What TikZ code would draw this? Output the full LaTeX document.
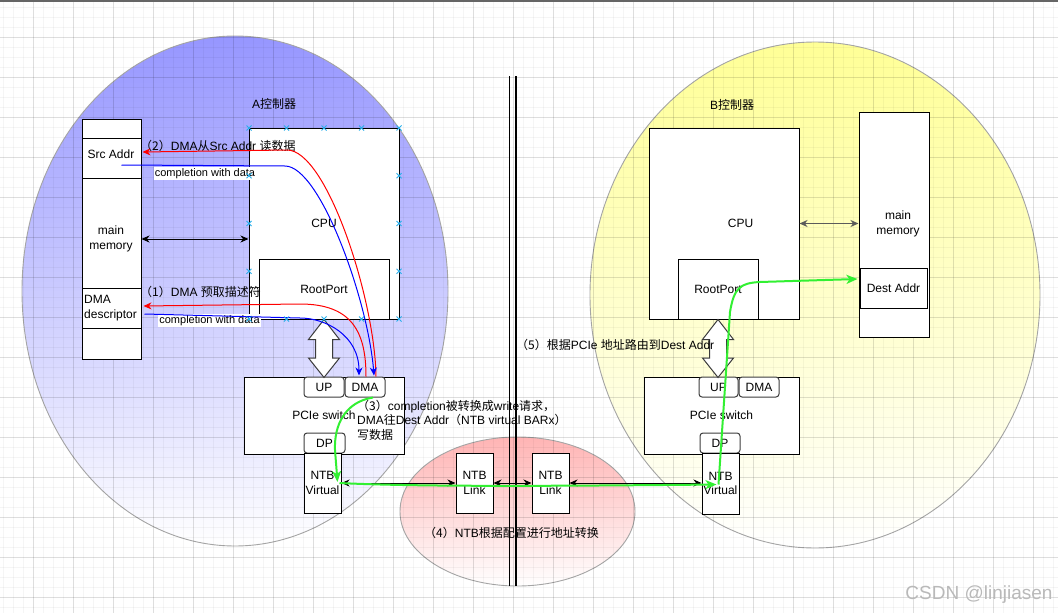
\documentclass[tikz,border=0pt]{standalone}
\usepackage{fontspec}
\setmainfont{Liberation Sans}
\newfontfamily\cjk{Noto Sans CJK SC}
\usetikzlibrary{arrows.meta,calc}
\newcommand\zh[1]{{\cjk #1}}
\newcommand\fsa{\fontsize{12pt}{14.5pt}\selectfont}
\newcommand\fsb{\fontsize{11pt}{13pt}\selectfont}
\definecolor{ellstroke}{RGB}{165,165,165}
\definecolor{blueA}{RGB}{150,150,255}
\definecolor{yelB}{RGB}{255,255,150}
\definecolor{pinkC}{RGB}{255,180,180}
\definecolor{grn}{RGB}{50,240,50}
\definecolor{selx}{RGB}{40,175,235}
\definecolor{portc}{RGB}{60,60,60}
\definecolor{arrgray}{RGB}{90,90,90}
\definecolor{wmc}{RGB}{185,185,185}
\definecolor{redl}{RGB}{255,0,0}
\definecolor{bluel}{RGB}{0,0,255}
\begin{document}
\begin{tikzpicture}[x=1pt,y=-1pt,
  >={Stealth[length=8pt,width=7pt,inset=2.5pt]},
  box/.style={draw=black, fill=white, line width=1pt, inner sep=0pt, font=\fsa, align=center},
  port/.style={draw=portc, fill=white, line width=1pt, rounded corners=3pt, inner sep=0pt,
    minimum height=20pt, font=\fsa},
  txt/.style={inner sep=0pt, font=\fsa},
  cwd/.style={fill=white, inner sep=1pt, font=\fsb},
  blk/.style={draw=black, line width=1pt},
  gblk/.style={draw=arrgray, line width=1.5pt},
  rline/.style={draw=redl, line width=1pt},
  bline/.style={draw=bluel, line width=1pt},
  grnl/.style={draw=grn, line width=2pt, -{Stealth[length=11pt,width=9pt,inset=3pt]}},
  hollow/.style={draw=portc, fill=white, line width=1pt, line join=miter},
  ell/.style={draw=ellstroke, line width=0.9pt},
  selmark/.style={draw=selx, line width=0.9pt},
  wmk/.style={inner sep=0pt, text=wmc, font=\fontsize{19pt}{22pt}\selectfont}
]
\useasboundingbox (0,0) rectangle (1058,613);
\fill[white] (0,0) rectangle (1058,613);

% ellipses
\shadedraw[ell, top color=blueA, bottom color=white] (235,291) ellipse [x radius=213, y radius=255];
\shadedraw[ell, top color=yelB, bottom color=white] (815,295) ellipse [x radius=225, y radius=253];
\shadedraw[ell, top color=pinkC, bottom color=white] (517.5,511.5) ellipse [x radius=117.5, y radius=74.5];

% grid
\foreach \x in {3,13,...,1053} \draw[black, opacity=0.04, line width=1pt] (\x,0) -- (\x,613);
\foreach \y in {7,17,...,607} \draw[black, opacity=0.04, line width=1pt] (0,\y) -- (1058,\y);
\foreach \x in {33,73,...,1053} \draw[black, opacity=0.09, line width=1pt] (\x,0) -- (\x,613);
\foreach \y in {37,77,...,597} \draw[black, opacity=0.09, line width=1pt] (0,\y) -- (1058,\y);
\draw[black!60, line width=1.5pt] (0,0.75) -- (1058,0.75);

% double separator
\draw[black, line width=1.3pt] (509.5,76) -- (509.5,586);
\draw[black, line width=1.3pt] (516,76) -- (516,586);

% ---- A side ----
\node[box, minimum width=59pt, minimum height=19pt] (memA0) at (111.5,128.5) {};
\node[box, minimum width=59pt, minimum height=40pt] (srcA) at (111.5,158) {};
\node[box, minimum width=59pt, minimum height=110pt] (mainA) at (111.5,233) {};
\node[box, minimum width=59pt, minimum height=40pt] (descA) at (111.5,308) {};
\node[box, minimum width=59pt, minimum height=31pt] (memA4) at (111.5,343.5) {};
\node[txt] (srcAt) at (111,154) {Src Addr};
\node[txt, align=center] (mainAt) at (111,239) {main\\memory};
\node[txt, align=left, anchor=west] (descAt) at (84,308) {DMA\\descriptor};

\node[box, minimum width=150pt, minimum height=191pt] (cpuA) at (324,223.5) {CPU};
\node[box, minimum width=130pt, minimum height=60pt] (rootA) at (324,289) {RootPort};

\node[box, minimum width=160pt, minimum height=77pt] (swA) at (324,415.5) {PCIe switch};
\node[port, minimum width=40pt] (upA) at (324,387) {UP};
\node[port, minimum width=40pt] (dmaA) at (365,387) {DMA};
\node[port, minimum width=41pt] (dpA) at (324.5,443) {DP};
\node[box, minimum width=37pt, minimum height=60pt] (ntbvA) at (322.5,483) {NTB\\Virtual};

% ---- NTB links ----
\node[box, minimum width=37pt, minimum height=60pt] (link1) at (474.5,483) {NTB\\Link};
\node[box, minimum width=37pt, minimum height=60pt] (link2) at (550.5,483) {NTB\\Link};

% ---- B side ----
\node[box, minimum width=150pt, minimum height=191pt] (cpuB) at (724,223.5) {};
\node[txt] (cpuBt) at (740.5,223) {CPU};
\node[box, minimum width=80pt, minimum height=60pt] (rootB) at (718,289) {RootPort};
\node[box, minimum width=70pt, minimum height=225pt] (memB) at (894,224.5) {};
\node[txt, align=center] (memBt) at (898,224) {main\\memory};
\node[box, minimum width=67pt, minimum height=40pt] (destB) at (893.5,288) {Dest Addr};

\node[box, minimum width=155pt, minimum height=77pt] (swB) at (721.5,415.5) {PCIe switch};
\node[port, minimum width=39pt] (upB) at (718.5,387) {UP};
\node[port, minimum width=40pt] (dmaB) at (759,387) {DMA};
\node[port, minimum width=40pt] (dpB) at (720,443) {DP};
\node[box, minimum width=37pt, minimum height=61pt] (ntbvB) at (720.5,483.5) {NTB\\Virtual};

% ---- hollow bus arrows ----
\draw[hollow] (rootA.south) -- ++(15.5,20) -- ++(-7,0) -- ++(0,18.5) -- ++(7,0) -- ++(-15.5,19.5)
  -- ++(-15.5,-19.5) -- ++(7,0) -- ++(0,-18.5) -- ++(-7,0) -- cycle;
\draw[hollow] (rootB.south) -- ++(15.5,20) -- ++(-7,0) -- ++(0,18.5) -- ++(7,0) -- ++(-15.5,19.5)
  -- ++(-15.5,-19.5) -- ++(7,0) -- ++(0,-18.5) -- ++(-7,0) -- cycle;

% ---- labels ----
\node[txt] (tA) at (274,104) {A\zh{控制器}};
\node[txt] (tB) at (732,105) {B\zh{控制器}};
\node[txt, anchor=west] (l2) at (140,145.5) {\zh{（2）}DMA\zh{从}Src Addr \zh{读数据}};
\node[txt, anchor=west] (l1) at (140,292) {\zh{（1）}DMA \zh{预取描述符}};
\node[cwd] (c2) at (205,173.5) {completion with data};
\node[cwd] (c1) at (209.5,320.5) {completion with data};
\node[txt, anchor=west, align=left] (l3) at (357,420)
  {\zh{（3）}completion\zh{被转换成}write\zh{请求，}\\DMA\zh{往}Dest Addr\zh{（}NTB virtual BARx\zh{）}\\\zh{写数据}};
\node[txt, anchor=west] (l4) at (424,533) {\zh{（4）}NTB\zh{根据配置进行地址转换}};
\node[txt, anchor=west] (l5) at (516,345) {\zh{（5）根据}PCIe \zh{地址路由到}Dest Addr};

% ---- connectors ----
\coordinate (mA) at ([shift={(0,6)}]mainA.east);
\draw[blk,<->] (mA) -- (mA -| cpuA.west);
\draw[gblk,<->] (cpuB.east) -- (cpuB.east -| memB.west);

\draw[blk,<->] (ntbvA.east) -- (link1.west);
\draw[blk,<->] (link1.east) -- (link2.west);
\draw[blk,<->] (link2.east) -- (link2.east -| ntbvB.west);

\draw[rline,->] ([xshift=1pt]dmaA.north) .. controls (366,332) and (352,304) .. (300,304) -- ([shift={(2,-2)}]descA.east);
\draw[bline,->] ([shift={(3,6)}]descA.east) -- (300,318) .. controls (325,318) and (359,335) .. ([shift={(-6,-1)}]dmaA.north);
\draw[rline,->] ([xshift=11pt]dmaA.north) .. controls (375,300) and (327,150) .. (287,150) -- ([shift={(1,-6)}]srcA.east);
\draw[bline,->] ([shift={(10,7)}]srcA.center) -- (285,166) .. controls (320,166) and (368,300) .. ([shift={(9,-1)}]dmaA.north);

\draw[grnl] ([xshift=8pt]dmaA.south) .. controls (345,402) and (334,425) .. (335,450) -- ([shift={(15,-1)}]ntbvA.center);
\draw[grnl] ([xshift=17pt]ntbvA.center) .. controls (420,487) and (560,486) .. ([shift={(-4,1)}]ntbvB.center);
\draw[grnl] ([shift={(-2,1)}]ntbvB.center) -- (730,312) .. controls (734,288) and (740,283) .. (760,282) -- ([shift={(-2,-9)}]destB.west);

% selection marks on CPU A
\foreach \x/\y in {249/128,286.5/128,324/128,361.5/128,399/128,
                   249/319,286.5/319,324/319,361.5/319,399/319,
                   249/175.75,249/223.5,249/271.25,399/175.75,399/223.5,399/271.25}
  \draw[selmark] (\x-2.5,\y-2.5) -- (\x+2.5,\y+2.5) (\x-2.5,\y+2.5) -- (\x+2.5,\y-2.5);

\node[wmk] (wm) at (979,595) {CSDN @linjiasen};
\end{tikzpicture}
\end{document}
